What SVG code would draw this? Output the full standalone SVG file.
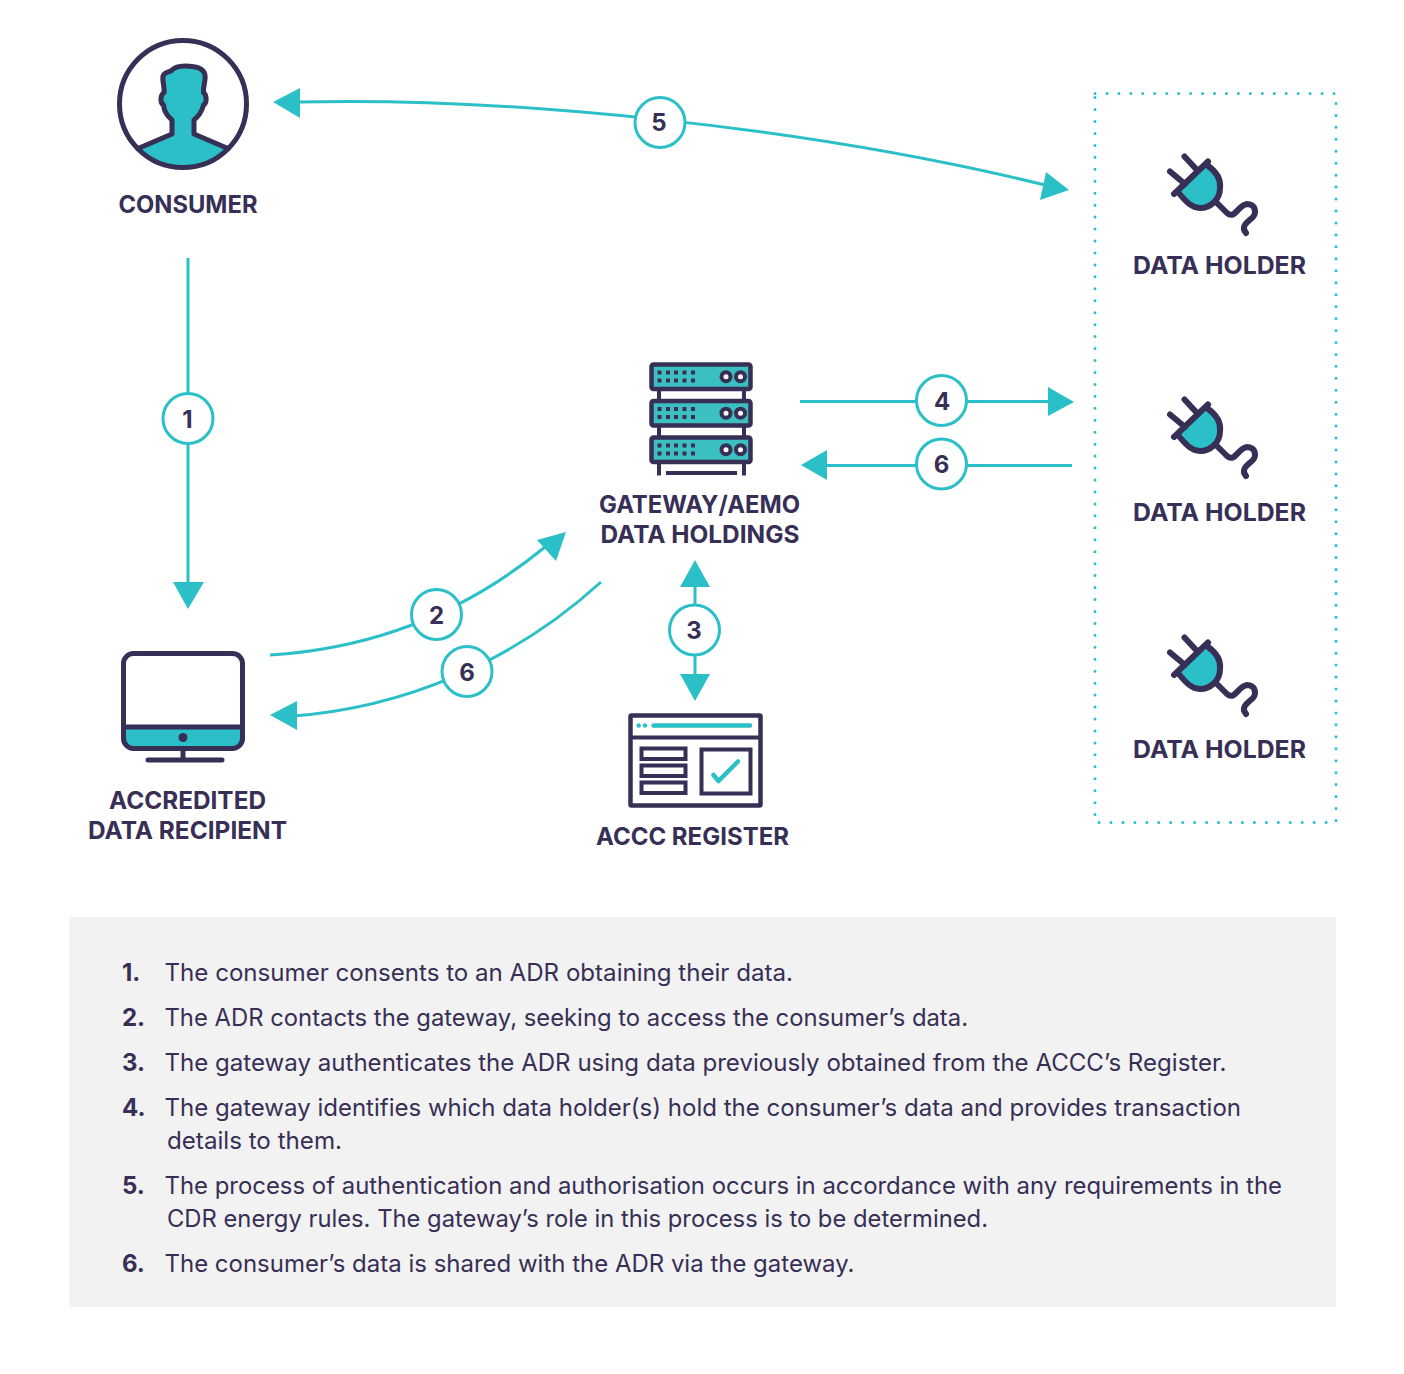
<svg xmlns="http://www.w3.org/2000/svg" width="1404" height="1374" viewBox="0 0 1404 1374">
<defs>
<style>
.d{fill:none;stroke:#372f55;stroke-width:5;stroke-linecap:round;stroke-linejoin:round}
.t{fill:#2bbfc8}
.c{fill:none;stroke:#2bbfc8;stroke-width:3}
.n{fill:#fff;stroke:#2bbfc8;stroke-width:3}
.h{font:700 24.5px Inter,"Liberation Sans",sans-serif;fill:#372f55;text-anchor:middle}
.b{font:400 24px Inter,"Liberation Sans",sans-serif;fill:#372f55}
.m{font:700 24px Inter,"Liberation Sans",sans-serif;fill:#372f55}
.l{font:700 24px Inter,"Liberation Sans",sans-serif;fill:#372f55;text-anchor:middle}
</style>
<g id="plug">
<path class="t" d="M1178 192L1207 165C1217 172 1221 180 1220 188C1220 200 1210 208 1200 208C1192 208 1186 202 1178 192Z"/>
<path class="d" style="stroke-width:6" d="M1170 171.500L1185 184M1184.500 156.500L1197 170M1174 194L1208 161.500M1178 192C1186 202 1192 208 1200 208C1210 208 1220 200 1220 188C1221 180 1217 172 1207 165M1218 204L1227 213C1235 220 1238 205 1247 204C1255 204 1257 212 1253 217C1248 222 1240 226 1246 233"/>
</g>
</defs>
<rect width="1404" height="1374" fill="#fff"/>
<rect x="69" y="917" width="1267" height="390" fill="#f2f2f2"/>
<rect x="1095" y="93.500" width="241" height="729" fill="none" stroke="#2bbfc8" stroke-width="3" stroke-linecap="round" stroke-dasharray="0 11.950"/>

<g id="connectors">
<path class="c" d="M188 258V585"/><path class="t" d="M173 582H204L188 609Z"/>
<path class="c" d="M270 655C350 650 450 625 545 547"/><path class="t" d="M537 540L566 532L556 561Z"/>
<path class="c" d="M601 582C510 665 400 708 293 716"/><path class="t" d="M297 701L270 715L297 730Z"/>
<path class="c" d="M695 585V675"/><path class="t" d="M680 587L695 560L710 587Z"/><path class="t" d="M680 674H710L695 701Z"/>
<path class="c" d="M800 401.500H1050"/><path class="t" d="M1048 387L1074 402L1048 416Z"/>
<path class="c" d="M825 465.500H1072"/><path class="t" d="M827 450L801 465L827 480Z"/>
<path class="c" d="M298 102C500 97 800 125 1045 185"/><path class="t" d="M300 88L273 102L300 118Z"/><path class="t" d="M1046 172L1069 190L1040 200Z"/>
</g>

<g id="badges">
<g><circle class="n" cx="188" cy="418.500" r="25"/><text class="l" x="187.500" y="427.500">1</text></g>
<g><circle class="n" cx="436.500" cy="614.500" r="25"/><text class="l" x="436.500" y="623.500">2</text></g>
<g><circle class="n" cx="467" cy="671.500" r="25"/><text class="l" x="467" y="680.500">6</text></g>
<g><circle class="n" cx="694.500" cy="630" r="25"/><text class="l" x="694" y="639">3</text></g>
<g><circle class="n" cx="941.500" cy="400.500" r="25"/><text class="l" x="942" y="409.500">4</text></g>
<g><circle class="n" cx="941.500" cy="464" r="25"/><text class="l" x="941.500" y="473">6</text></g>
<g><circle class="n" cx="660" cy="122.500" r="25"/><text class="l" x="659" y="131">5</text></g>
</g>

<g id="consumer">
<path class="t" d="M138 148.500L172 134V120C167 116 164 110 163.500 105C160 103 160 95 164 92.500C165 88 162 82 163 76C164 73 167 72 171 71C174 67 179 66 185 66C197 66 204 69 205 75C206 80 203 86 203.500 92.500C207 95 207 103 203.500 105C202 111 199 116 194 120V134L228 148.500A63.500 63.500 0 0 1 138 148.500Z"/>
<path class="d" d="M138 148.500L172 134V120C167 116 164 110 163.500 105C160 103 160 95 164 92.500C165 88 162 82 163 76C164 73 167 72 171 71C174 67 179 66 185 66C197 66 204 69 205 75C206 80 203 86 203.500 92.500C207 95 207 103 203.500 105C202 111 199 116 194 120V134L228 148.500"/>
<circle class="d" cx="183" cy="104" r="63.500"/>
<text class="h" x="188" y="212.500" textLength="139" lengthAdjust="spacingAndGlyphs">CONSUMER</text>
</g>

<g id="recipient">
<path class="t" d="M123 729H243V738C243 744 238 748 232 748H134C128 748 123 744 123 738Z"/>
<rect class="d" x="123.500" y="653.500" width="119" height="95" rx="10"/>
<path class="d" d="M123.500 727H242.500M183 749V760M148 760H222"/>
<circle cx="183" cy="737.500" r="4.500" fill="#372f55"/>
<text class="h" x="187.500" y="809" textLength="157" lengthAdjust="spacingAndGlyphs">ACCREDITED</text>
<text class="h" x="187.500" y="839" textLength="199" lengthAdjust="spacingAndGlyphs">DATA RECIPIENT</text>
</g>

<g id="gateway">
<g fill="#3bbfc0" stroke="#372f55" stroke-width="4.500" stroke-linejoin="round">
<rect x="651.500" y="364.500" width="99" height="24.500" rx="2"/>
<rect x="651.500" y="401" width="99" height="24.500" rx="2"/>
<rect x="651.500" y="437.500" width="99" height="24.500" rx="2"/>
</g>
<path d="M659 390V400M744 390V400M659 427V437M744 427V437M659 463V475.500M744 463V475.500M666 473H737" fill="none" stroke="#372f55" stroke-width="4"/>
<path d="M657.500 370.500h4v4h-4zM666 370.500h4v4h-4zM674 370.500h4v4h-4zM682.500 370.500h4v4h-4zM691 370.500h4v4h-4zM657.500 378.500h4v4h-4zM666 378.500h4v4h-4zM674 378.500h4v4h-4zM682.500 378.500h4v4h-4zM691 378.500h4v4h-4zM657.500 407h4v4h-4zM666 407h4v4h-4zM674 407h4v4h-4zM682.500 407h4v4h-4zM691 407h4v4h-4zM657.500 415h4v4h-4zM666 415h4v4h-4zM674 415h4v4h-4zM682.500 415h4v4h-4zM691 415h4v4h-4zM657.500 443.500h4v4h-4zM666 443.500h4v4h-4zM674 443.500h4v4h-4zM682.500 443.500h4v4h-4zM691 443.500h4v4h-4zM657.500 451.500h4v4h-4zM666 451.500h4v4h-4zM674 451.500h4v4h-4zM682.500 451.500h4v4h-4zM691 451.500h4v4h-4z" fill="#372f55"/>
<g fill="#fff" stroke="#372f55" stroke-width="4">
<circle cx="726" cy="376.700" r="4.500"/><circle cx="740.500" cy="376.700" r="4.500"/>
<circle cx="726" cy="413.200" r="4.500"/><circle cx="740.500" cy="413.200" r="4.500"/>
<circle cx="726" cy="449.700" r="4.500"/><circle cx="740.500" cy="449.700" r="4.500"/>
</g>
<text class="h" x="699.500" y="512.500" textLength="201" lengthAdjust="spacingAndGlyphs">GATEWAY/AEMO</text>
<text class="h" x="700" y="542.500" textLength="199" lengthAdjust="spacingAndGlyphs">DATA HOLDINGS</text>
</g>

<g id="register">
<rect x="630.500" y="715.500" width="130" height="90" rx="1" fill="none" stroke="#372f55" stroke-width="4.500"/>
<path d="M631 737.500H760" stroke="#372f55" stroke-width="4" fill="none"/>
<path d="M653.500 725.500H750" stroke="#2bbfc8" stroke-width="4.500" stroke-linecap="round" fill="none"/>
<circle class="t" cx="638.700" cy="725.500" r="2.200"/><circle class="t" cx="645" cy="725.500" r="2.200"/>
<g fill="none" stroke="#372f55" stroke-width="4">
<rect x="641.500" y="748.500" width="44" height="10.500"/>
<rect x="641.500" y="765.500" width="44" height="10.500"/>
<rect x="641.500" y="782.500" width="44" height="10.500"/>
<rect x="701.500" y="749.500" width="49" height="44"/>
</g>
<path d="M713.500 775L718.500 781L738 761.500" fill="none" stroke="#2bbfc8" stroke-width="4.500" stroke-linecap="round" stroke-linejoin="round"/>
<text class="h" x="692.500" y="844.500" textLength="193" lengthAdjust="spacingAndGlyphs">ACCC REGISTER</text>
</g>

<g id="holder1"><use href="#plug"/><text class="h" x="1219.500" y="274" textLength="173" lengthAdjust="spacingAndGlyphs">DATA HOLDER</text></g>
<g id="holder2"><use href="#plug" y="243"/><text class="h" x="1219.500" y="521" textLength="173" lengthAdjust="spacingAndGlyphs">DATA HOLDER</text></g>
<g id="holder3"><use href="#plug" y="481"/><text class="h" x="1219.500" y="758" textLength="173" lengthAdjust="spacingAndGlyphs">DATA HOLDER</text></g>

<g id="notes">
<text class="m" x="122" y="981">1.</text>
<text class="b" x="164.500" y="981" textLength="628.500" lengthAdjust="spacingAndGlyphs">The consumer consents to an ADR obtaining their data.</text>
<text class="m" x="122" y="1026">2.</text>
<text class="b" x="164.500" y="1026" textLength="803.500" lengthAdjust="spacingAndGlyphs">The ADR contacts the gateway, seeking to access the consumer’s data.</text>
<text class="m" x="122" y="1071">3.</text>
<text class="b" x="164.500" y="1071" textLength="1062" lengthAdjust="spacingAndGlyphs">The gateway authenticates the ADR using data previously obtained from the ACCC’s Register.</text>
<text class="m" x="122" y="1116">4.</text>
<text class="b" x="164.500" y="1116" textLength="1076.500" lengthAdjust="spacingAndGlyphs">The gateway identifies which data holder(s) hold the consumer’s data and provides transaction</text>
<text class="b" x="167" y="1149" textLength="175" lengthAdjust="spacingAndGlyphs">details to them.</text>
<text class="m" x="122" y="1194">5.</text>
<text class="b" x="164.500" y="1194" textLength="1117.500" lengthAdjust="spacingAndGlyphs">The process of authentication and authorisation occurs in accordance with any requirements in the</text>
<text class="b" x="167" y="1227" textLength="821" lengthAdjust="spacingAndGlyphs">CDR energy rules. The gateway’s role in this process is to be determined.</text>
<text class="m" x="122" y="1272">6.</text>
<text class="b" x="164.500" y="1272" textLength="690" lengthAdjust="spacingAndGlyphs">The consumer’s data is shared with the ADR via the gateway.</text>
</g>
</svg>
